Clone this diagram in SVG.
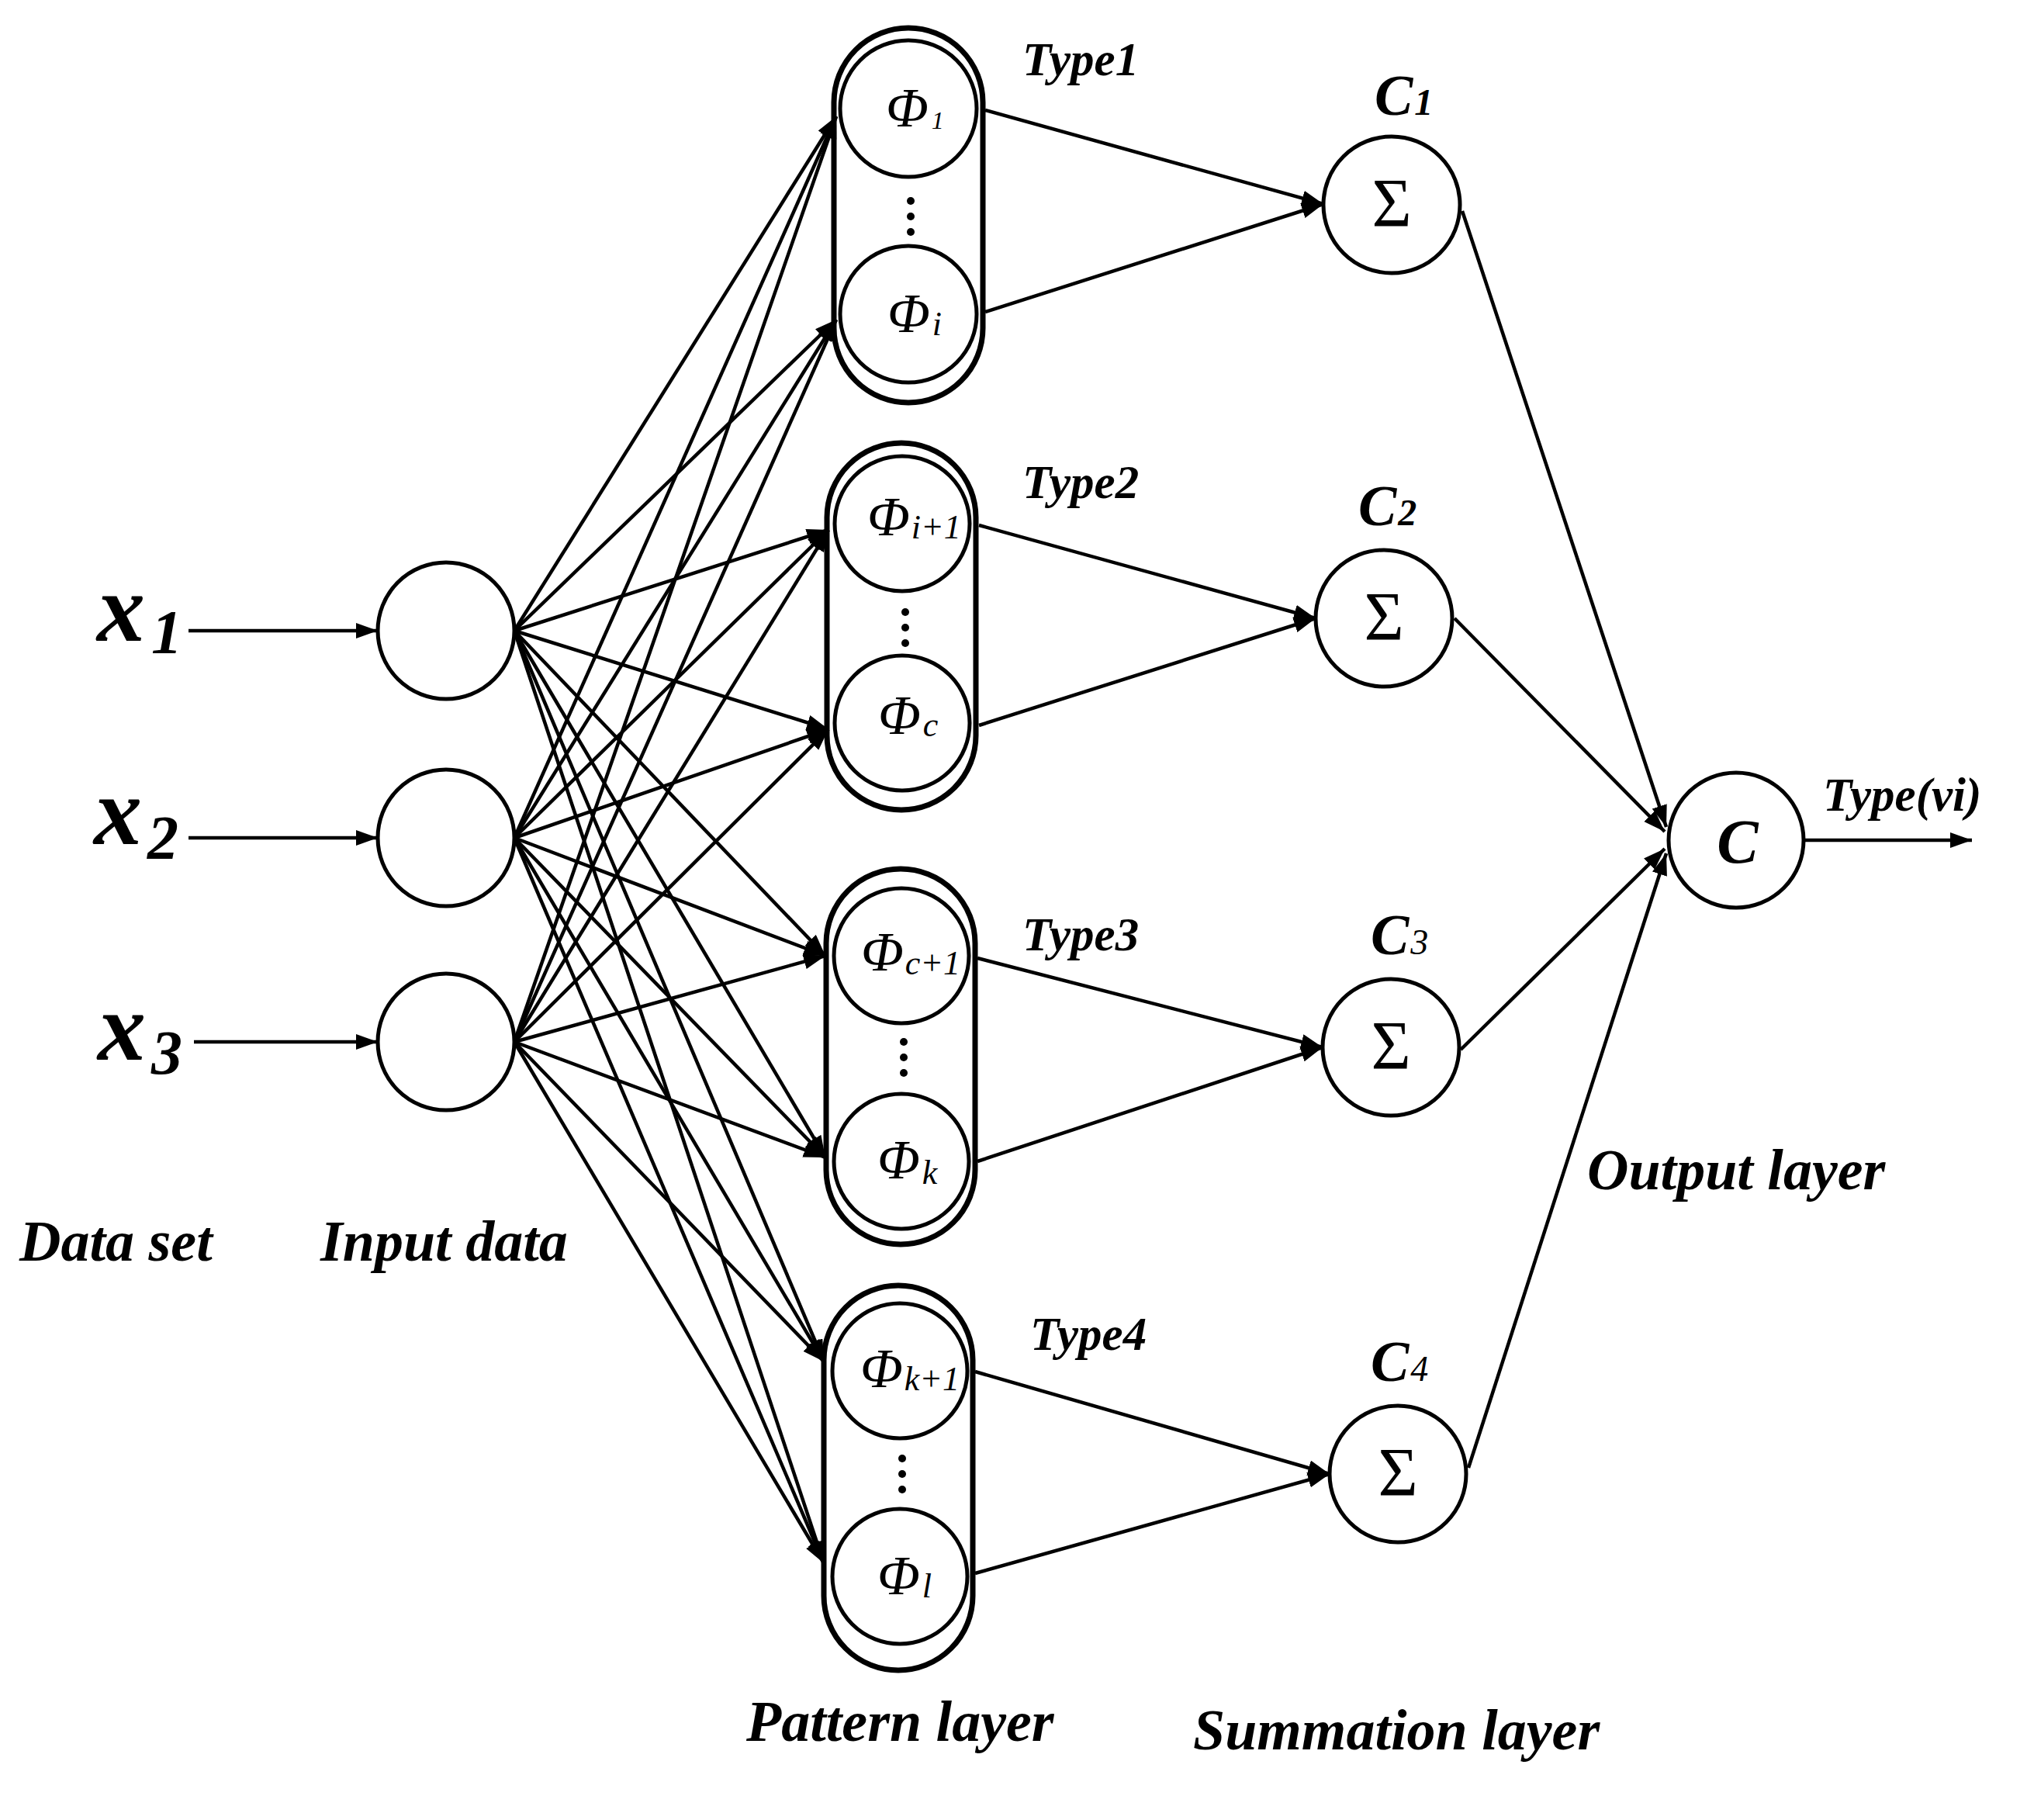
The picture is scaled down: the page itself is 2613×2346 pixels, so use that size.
<svg xmlns="http://www.w3.org/2000/svg" width="2613" height="2346" viewBox="0 0 2613 2346">
<defs>
<marker id="arr" markerUnits="userSpaceOnUse" markerWidth="30" markerHeight="22" refX="28" refY="10" orient="auto">
<path d="M0,0 L28,10 L0,20 z" fill="#000"/>
</marker>
<style>
.n{fill:#fff;stroke:#000;stroke-width:5}
.cap{fill:#fff;stroke:#000;stroke-width:7}
.e{stroke:#000;stroke-width:4.5;fill:none;marker-end:url(#arr)}
.dot{fill:#000}
text{font-family:"Liberation Serif","Times New Roman",serif;fill:#000}
.bi{font-weight:bold;font-style:italic}
.it{font-style:italic}
.lbl{font-size:74px;font-weight:bold;font-style:italic}
.typ{font-size:61px;font-weight:bold;font-style:italic}
.phi{font-size:72px;font-style:italic}
.sub{font-size:44px;font-style:italic}
.sig{font-size:88px}
</style>
</defs>
<rect width="2613" height="2346" fill="#fff"/>

<g id="x1-label"><text class="bi" x="125" y="826" font-size="124">x<tspan x="195" y="842" font-size="80">1</tspan></text></g>
<g id="x2-label"><text class="bi" x="121" y="1088" font-size="124">x<tspan x="190" y="1107" font-size="80">2</tspan></text></g>
<g id="x3-label"><text class="bi" x="126" y="1366" font-size="124">x<tspan x="195" y="1384" font-size="80">3</tspan></text></g>

<g id="input1"><circle class="n" cx="575" cy="813" r="88"/></g>
<g id="input2"><circle class="n" cx="575" cy="1080" r="88"/></g>
<g id="input3"><circle class="n" cx="575" cy="1343" r="88"/></g>

<g id="pattern1">
<rect class="cap" x="1075" y="36" width="192" height="483" rx="96"/>
<circle class="n" cx="1171" cy="140" r="88"/>
<circle class="n" cx="1171" cy="405" r="88"/>
<circle class="dot" cx="1174" cy="259" r="5"/><circle class="dot" cx="1174" cy="279" r="5"/><circle class="dot" cx="1174" cy="299" r="5"/>
<text class="phi" x="1142" y="163">Φ<tspan font-size="32" dx="4" dy="3">1</tspan></text>
<text class="phi" x="1144" y="428">Φ<tspan class="sub" dx="3" dy="4">i</tspan></text>
<text class="typ" x="1318" y="97">Type1</text>
</g>

<g id="pattern2">
<rect class="cap" x="1066" y="571" width="192" height="473" rx="96"/>
<circle class="n" cx="1163" cy="675" r="87"/>
<circle class="n" cx="1163" cy="932" r="87"/>
<circle class="dot" cx="1167" cy="789" r="5"/><circle class="dot" cx="1167" cy="809" r="5"/><circle class="dot" cx="1167" cy="829" r="5"/>
<text class="phi" x="1118" y="690">Φ<tspan class="sub" dx="2" dy="4">i+1</tspan></text>
<text class="phi" x="1132" y="946">Φ<tspan class="sub" dx="3" dy="3">c</tspan></text>
<text class="typ" x="1318" y="642">Type2</text>
</g>

<g id="pattern3">
<rect class="cap" x="1065" y="1120" width="192" height="484" rx="96"/>
<circle class="n" cx="1162" cy="1232" r="87"/>
<circle class="n" cx="1162" cy="1497" r="87"/>
<circle class="dot" cx="1165" cy="1343" r="5"/><circle class="dot" cx="1165" cy="1363" r="5"/><circle class="dot" cx="1165" cy="1383" r="5"/>
<text class="phi" x="1110" y="1251">Φ<tspan class="sub" dx="2" dy="5">c+1</tspan></text>
<text class="phi" x="1131" y="1519">Φ<tspan class="sub" dx="3" dy="7">k</tspan></text>
<text class="typ" x="1318" y="1225">Type3</text>
</g>

<g id="pattern4">
<rect class="cap" x="1062" y="1657" width="192" height="496" rx="96"/>
<circle class="n" cx="1160" cy="1767" r="87"/>
<circle class="n" cx="1160" cy="2032" r="87"/>
<circle class="dot" cx="1163" cy="1880" r="5"/><circle class="dot" cx="1163" cy="1900" r="5"/><circle class="dot" cx="1163" cy="1920" r="5"/>
<text class="phi" x="1109" y="1788">Φ<tspan class="sub" dx="2" dy="4">k+1</tspan></text>
<text class="phi" x="1131" y="2055">Φ<tspan class="sub" dx="3" dy="4">l</tspan></text>
<text class="typ" x="1328" y="1740">Type4</text>
</g>

<g id="sum1"><circle class="n" cx="1794" cy="264" r="88"/><text class="sig" x="1794" y="291" text-anchor="middle">Σ</text>
<text class="bi" x="1772" y="148" font-size="74">C<tspan font-size="48" dx="2">1</tspan></text></g>
<g id="sum2"><circle class="n" cx="1784" cy="797" r="88"/><text class="sig" x="1784" y="824" text-anchor="middle">Σ</text>
<text class="bi" x="1751" y="677" font-size="74">C<tspan font-size="48" dx="2">2</tspan></text></g>
<g id="sum3"><circle class="n" cx="1793" cy="1350" r="88"/><text class="sig" x="1793" y="1377" text-anchor="middle">Σ</text>
<text class="bi" x="1767" y="1230" font-size="74">C<tspan font-size="46" font-weight="normal" dx="2">3</tspan></text></g>
<g id="sum4"><circle class="n" cx="1802" cy="1900" r="88"/><text class="sig" x="1802" y="1927" text-anchor="middle">Σ</text>
<text class="bi" x="1767" y="1780" font-size="74">C<tspan font-size="46" font-weight="normal" dx="2">4</tspan></text></g>

<g id="output"><circle class="n" cx="2238" cy="1083" r="87"/><text class="bi" x="2240" y="1112" font-size="80" text-anchor="middle">C</text></g>
<g id="output-label"><text class="typ" x="2350" y="1045">Type(vi)</text></g>

<g id="layer-labels">
<text class="lbl" x="25" y="1625">Data set</text>
<text class="lbl" x="413" y="1625">Input data</text>
<text class="lbl" x="962" y="2244">Pattern layer</text>
<text class="lbl" x="1538" y="2255">Summation layer</text>
<text class="lbl" x="2046" y="1533">Output layer</text>
</g>

<g id="connectors">
<line class="e" x1="243" y1="813" x2="487" y2="813"/>
<line class="e" x1="243" y1="1080" x2="487" y2="1080"/>
<line class="e" x1="250" y1="1343" x2="487" y2="1343"/>

<line class="e" x1="663" y1="813" x2="1078" y2="150"/>
<line class="e" x1="663" y1="813" x2="1078" y2="412"/>
<line class="e" x1="663" y1="813" x2="1068" y2="683"/>
<line class="e" x1="663" y1="813" x2="1068" y2="940"/>
<line class="e" x1="663" y1="813" x2="1064" y2="1232"/>
<line class="e" x1="663" y1="813" x2="1064" y2="1492"/>
<line class="e" x1="663" y1="813" x2="1062" y2="1755"/>
<line class="e" x1="663" y1="813" x2="1062" y2="2015"/>

<line class="e" x1="663" y1="1080" x2="1078" y2="150"/>
<line class="e" x1="663" y1="1080" x2="1078" y2="412"/>
<line class="e" x1="663" y1="1080" x2="1068" y2="683"/>
<line class="e" x1="663" y1="1080" x2="1068" y2="940"/>
<line class="e" x1="663" y1="1080" x2="1064" y2="1232"/>
<line class="e" x1="663" y1="1080" x2="1064" y2="1492"/>
<line class="e" x1="663" y1="1080" x2="1062" y2="1755"/>
<line class="e" x1="663" y1="1080" x2="1062" y2="2015"/>

<line class="e" x1="663" y1="1343" x2="1078" y2="150"/>
<line class="e" x1="663" y1="1343" x2="1078" y2="412"/>
<line class="e" x1="663" y1="1343" x2="1068" y2="683"/>
<line class="e" x1="663" y1="1343" x2="1068" y2="940"/>
<line class="e" x1="663" y1="1343" x2="1064" y2="1232"/>
<line class="e" x1="663" y1="1343" x2="1064" y2="1492"/>
<line class="e" x1="663" y1="1343" x2="1062" y2="1755"/>
<line class="e" x1="663" y1="1343" x2="1062" y2="2015"/>

<line class="e" x1="1270" y1="142" x2="1706" y2="263"/>
<line class="e" x1="1270" y1="402" x2="1706" y2="263"/>
<line class="e" x1="1262" y1="677" x2="1696" y2="797"/>
<line class="e" x1="1262" y1="935" x2="1696" y2="797"/>
<line class="e" x1="1260" y1="1235" x2="1705" y2="1350"/>
<line class="e" x1="1260" y1="1497" x2="1705" y2="1350"/>
<line class="e" x1="1257" y1="1768" x2="1714" y2="1900"/>
<line class="e" x1="1257" y1="2028" x2="1714" y2="1900"/>

<line class="e" x1="1885" y1="272" x2="2148" y2="1066"/>
<line class="e" x1="1875" y1="797" x2="2146" y2="1072"/>
<line class="e" x1="1883" y1="1353" x2="2146" y2="1094"/>
<line class="e" x1="1893" y1="1892" x2="2148" y2="1100"/>

<line class="e" x1="2327" y1="1083" x2="2542" y2="1083"/>
</g>
</svg>
